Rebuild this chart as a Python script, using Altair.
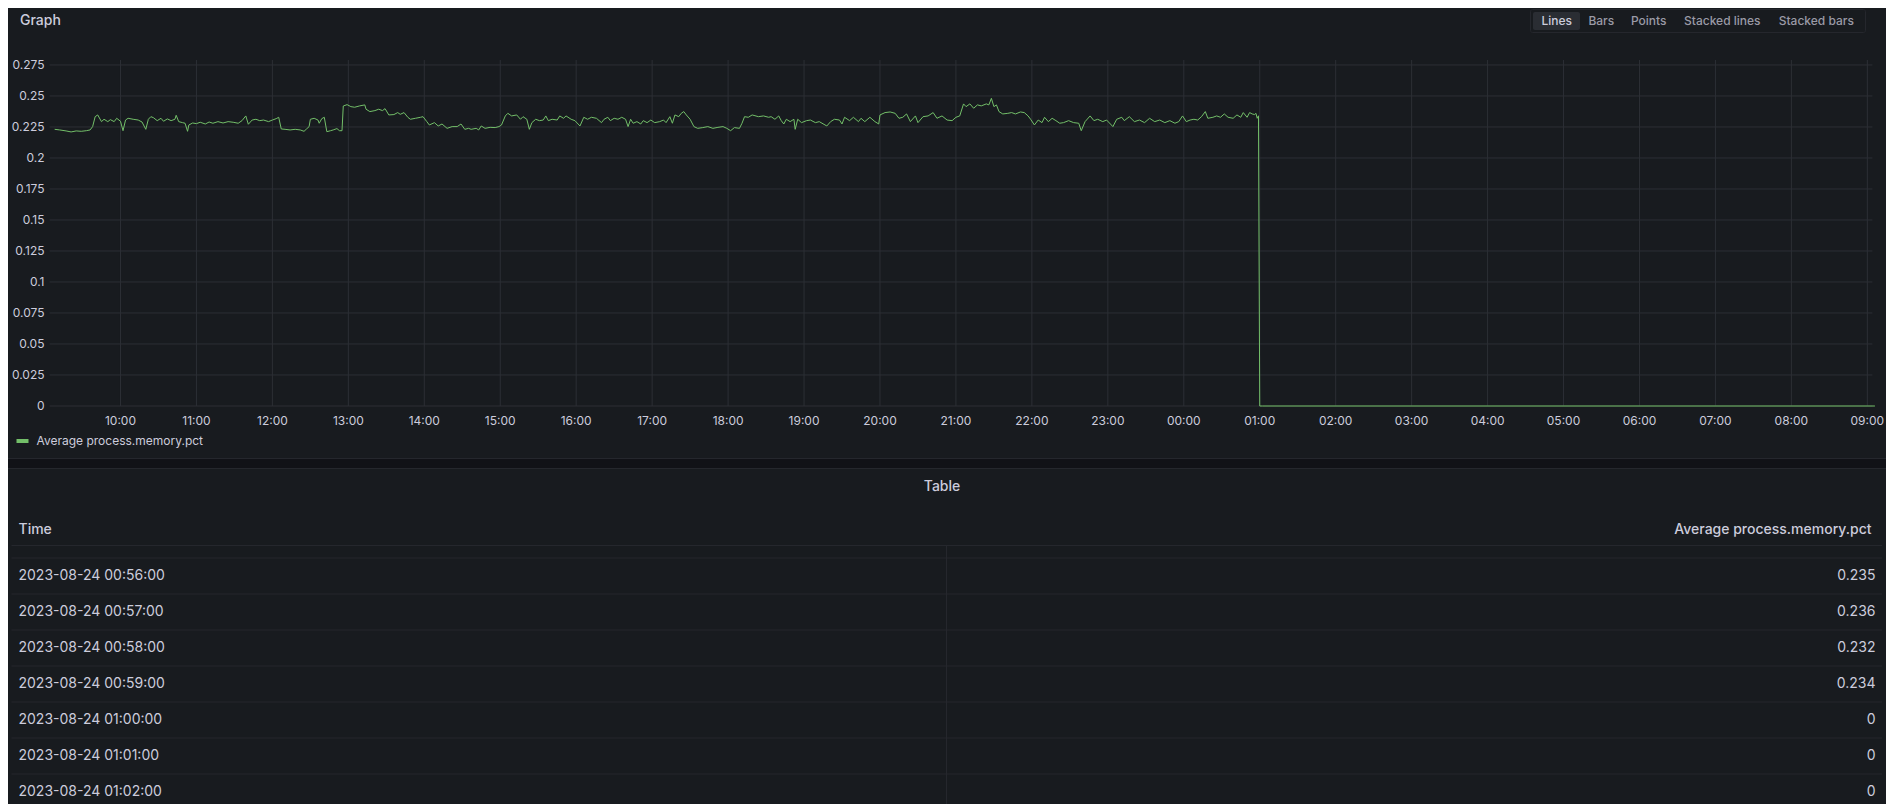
import altair as alt
import pandas as pd
from datetime import datetime, timedelta

# ---------------- data ----------------
SERIES = "Average process.memory.pct"
COL_TIME = "Time"

times = [
    "09:08", "09:12", "09:17", "09:21", "09:25", "09:29", "09:33", "09:36", "09:38", "09:40",
    "09:42", "09:45", "09:47", "09:50", "09:52", "09:55", "09:57", "10:00", "10:02", "10:04",
    "10:06", "10:10", "10:14", "10:17", "10:20", "10:22", "10:24", "10:26", "10:29", "10:32",
    "10:34", "10:37", "10:40", "10:43", "10:44", "10:46", "10:49", "10:51", "10:53", "10:54",
    "10:57", "11:00", "11:03", "11:07", "11:10", "11:13", "11:17", "11:21", "11:25", "11:29",
    "11:33", "11:36", "11:39", "11:41", "11:44", "11:47", "11:50", "11:53", "11:57", "12:00",
    "12:03", "12:05", "12:07", "12:10", "12:14", "12:18", "12:22", "12:25", "12:27", "12:29",
    "12:30", "12:33", "12:36", "12:37", "12:39", "12:41", "12:43", "12:46", "12:48", "12:51",
    "12:53", "12:55", "12:56", "12:59", "13:02", "13:05", "13:09", "13:13", "13:14", "13:17",
    "13:21", "13:24", "13:27", "13:29", "13:32", "13:36", "13:39", "13:41", "13:44", "13:47",
    "13:49", "13:53", "13:57", "13:59", "14:02", "14:04", "14:08", "14:11", "14:14", "14:18",
    "14:22", "14:26", "14:29", "14:32", "14:35", "14:37", "14:41", "14:43", "14:45", "14:48",
    "14:52", "14:56", "14:59", "15:01", "15:04", "15:06", "15:09", "15:13", "15:16", "15:18",
    "15:21", "15:23", "15:25", "15:28", "15:31", "15:34", "15:36", "15:38", "15:41", "15:45",
    "15:47", "15:50", "15:52", "15:56", "15:59", "16:03", "16:06", "16:09", "16:12", "16:16",
    "16:20", "16:22", "16:25", "16:27", "16:30", "16:33", "16:36", "16:39", "16:41", "16:43",
    "16:45", "16:48", "16:51", "16:53", "16:56", "16:59", "17:02", "17:06", "17:09", "17:11",
    "17:14", "17:16", "17:18", "17:21", "17:23", "17:25", "17:27", "17:30", "17:33", "17:36",
    "17:40", "17:44", "17:48", "17:52", "17:56", "17:59", "18:02", "18:05", "18:09", "18:11",
    "18:13", "18:16", "18:19", "18:24", "18:28", "18:32", "18:34", "18:37", "18:40", "18:42",
    "18:44", "18:46", "18:49", "18:52", "18:53", "18:55", "18:58", "19:02", "19:05", "19:09",
    "19:12", "19:18", "19:21", "19:24", "19:28", "19:30", "19:32", "19:36", "19:39", "19:43",
    "19:45", "19:48", "19:52", "19:56", "19:59", "20:00", "20:04", "20:08", "20:12", "20:15",
    "20:18", "20:21", "20:24", "20:28", "20:30", "20:34", "20:38", "20:42", "20:45", "20:49",
    "20:53", "20:57", "21:00", "21:03", "21:06", "21:08", "21:11", "21:14", "21:17", "21:20",
    "21:24", "21:26", "21:28", "21:30", "21:32", "21:34", "21:37", "21:41", "21:44", "21:47",
    "21:51", "21:54", "21:57", "21:59", "22:02", "22:05", "22:08", "22:10", "22:13", "22:16",
    "22:19", "22:22", "22:25", "22:29", "22:33", "22:37", "22:39", "22:42", "22:46", "22:49",
    "22:52", "22:56", "22:59", "23:04", "23:07", "23:11", "23:13", "23:17", "23:21", "23:25",
    "23:29", "23:33", "23:37", "23:41", "23:45", "23:49", "23:53", "23:56", "23:59", "00:02",
    "00:05", "00:08", "00:11", "00:14", "00:17", "00:19", "00:23", "00:26", "00:29", "00:32",
    "00:35", "00:39", "00:42", "00:45", "00:47", "00:50", "00:52", "00:54", "00:56", "00:57",
    "00:58", "00:59", "01:00", "01:01", "01:02", "09:06",
]

values = [
    0.2231, 0.2226, 0.2218, 0.2210, 0.2218, 0.2215, 0.2220, 0.2226, 0.2253, 0.2333,
    0.2347, 0.2293, 0.2312, 0.2293, 0.2309, 0.2293, 0.2320, 0.2296, 0.2220, 0.2306,
    0.2320, 0.2312, 0.2306, 0.2290, 0.2231, 0.2312, 0.2333, 0.2325, 0.2301, 0.2320,
    0.2296, 0.2315, 0.2301, 0.2312, 0.2344, 0.2293, 0.2285, 0.2280, 0.2215, 0.2266,
    0.2282, 0.2277, 0.2288, 0.2274, 0.2290, 0.2280, 0.2293, 0.2282, 0.2293, 0.2288,
    0.2280, 0.2301, 0.2339, 0.2272, 0.2306, 0.2312, 0.2301, 0.2306, 0.2293, 0.2306,
    0.2317, 0.2328, 0.2234, 0.2231, 0.2226, 0.2231, 0.2226, 0.2215, 0.2234, 0.2253,
    0.2312, 0.2320, 0.2306, 0.2280, 0.2317, 0.2328, 0.2212, 0.2220, 0.2226, 0.2237,
    0.2220, 0.2220, 0.2419, 0.2430, 0.2414, 0.2409, 0.2420, 0.2428, 0.2393, 0.2374,
    0.2382, 0.2393, 0.2382, 0.2398, 0.2347, 0.2350, 0.2366, 0.2352, 0.2366, 0.2328,
    0.2312, 0.2320, 0.2328, 0.2333, 0.2293, 0.2266, 0.2285, 0.2258, 0.2274, 0.2239,
    0.2253, 0.2253, 0.2274, 0.2231, 0.2239, 0.2231, 0.2239, 0.2226, 0.2258, 0.2239,
    0.2247, 0.2245, 0.2253, 0.2266, 0.2339, 0.2360, 0.2339, 0.2347, 0.2312, 0.2333,
    0.2312, 0.2231, 0.2285, 0.2312, 0.2301, 0.2306, 0.2339, 0.2301, 0.2312, 0.2306,
    0.2339, 0.2320, 0.2339, 0.2312, 0.2301, 0.2258, 0.2328, 0.2312, 0.2328, 0.2320,
    0.2285, 0.2312, 0.2328, 0.2301, 0.2320, 0.2312, 0.2328, 0.2312, 0.2253, 0.2312,
    0.2280, 0.2293, 0.2274, 0.2301, 0.2285, 0.2306, 0.2285, 0.2293, 0.2306, 0.2285,
    0.2333, 0.2280, 0.2347, 0.2333, 0.2360, 0.2374, 0.2347, 0.2312, 0.2253, 0.2239,
    0.2245, 0.2253, 0.2239, 0.2247, 0.2253, 0.2239, 0.2220, 0.2245, 0.2239, 0.2280,
    0.2333, 0.2328, 0.2347, 0.2333, 0.2339, 0.2328, 0.2333, 0.2312, 0.2339, 0.2301,
    0.2274, 0.2312, 0.2293, 0.2312, 0.2231, 0.2312, 0.2285, 0.2301, 0.2306, 0.2285,
    0.2293, 0.2258, 0.2293, 0.2312, 0.2306, 0.2274, 0.2328, 0.2301, 0.2328, 0.2293,
    0.2320, 0.2293, 0.2328, 0.2293, 0.2274, 0.2347, 0.2366, 0.2371, 0.2360, 0.2320,
    0.2328, 0.2355, 0.2293, 0.2339, 0.2285, 0.2333, 0.2339, 0.2366, 0.2320, 0.2339,
    0.2306, 0.2301, 0.2328, 0.2339, 0.2436, 0.2414, 0.2436, 0.2401, 0.2428, 0.2420,
    0.2436, 0.2428, 0.2481, 0.2414, 0.2428, 0.2374, 0.2355, 0.2360, 0.2366, 0.2355,
    0.2371, 0.2366, 0.2339, 0.2312, 0.2266, 0.2306, 0.2285, 0.2328, 0.2293, 0.2320,
    0.2301, 0.2280, 0.2285, 0.2301, 0.2285, 0.2280, 0.2220, 0.2293, 0.2339, 0.2301,
    0.2312, 0.2293, 0.2306, 0.2253, 0.2312, 0.2328, 0.2301, 0.2333, 0.2293, 0.2306,
    0.2285, 0.2320, 0.2293, 0.2306, 0.2285, 0.2301, 0.2280, 0.2293, 0.2339, 0.2293,
    0.2306, 0.2312, 0.2306, 0.2333, 0.2374, 0.2320, 0.2328, 0.2339, 0.2328, 0.2355,
    0.2328, 0.2320, 0.2347, 0.2328, 0.2366, 0.2328, 0.2366, 0.2355, 0.235, 0.236,
    0.232, 0.234, 0, 0, 0, 0,
]

x_tick_labels = ["10:00", "11:00", "12:00", "13:00", "14:00", "15:00", "16:00", "17:00",
                 "18:00", "19:00", "20:00", "21:00", "22:00", "23:00", "00:00", "01:00",
                 "02:00", "03:00", "04:00", "05:00", "06:00", "07:00", "08:00", "09:00"]
y_tick_values = [0, 0.025, 0.05, 0.075, 0.1, 0.125, 0.15, 0.175, 0.2, 0.225, 0.25, 0.275]
y_max = 0.279
time_from = "09:04"
time_to = "09:04"
buttons = ["Lines", "Bars", "Points", "Stacked lines", "Stacked bars"]
table_from, table_to = "00:56", "01:02"

# ---------------- helpers ----------------
DAY0 = datetime(2023, 8, 23)


def stamps(labels, start_day=0):
    out, day, prev = [], start_day, None
    for s in labels:
        h, m = map(int, s.split(":"))
        if prev is not None and (h, m) < prev:
            day += 1
        prev = (h, m)
        out.append(DAY0 + timedelta(days=day, hours=h, minutes=m))
    return out


def dt(d):
    return alt.DateTime(year=d.year, month=d.month, date=d.day, hours=d.hour, minutes=d.minute)


def iso(d):
    return d.strftime("%Y-%m-%dT%H:%M:%S")


ts = stamps(times)
df = pd.DataFrame({"time": [iso(t) for t in ts], "value": values, "series": SERIES})

tick_ts = stamps(x_tick_labels)
t0 = stamps([time_from])[0]
t1 = stamps([time_to], start_day=1)[0]

# colours
PAGE = "#111217"
PANEL = "#181b1f"
BORDER = "#25272d"
GRID = "#2c2f35"
TEXT = "#ccccdc"
TEXT2 = "#9a9aa6"
GREEN = "#73BF69"
FONT = "Inter"

X_SCALE = alt.Scale(domain=[dt(t0), dt(t1)], range=[41.6, 1864.4])
Y_SCALE = alt.Scale(domain=[0, y_max], range=[398, 52], nice=False, zero=False)

ONE = alt.Data(values=[{"k": 0}])


def box(x, x2, y, y2, fill=None, stroke=None, radius=0):
    kw = {"cornerRadius": radius}
    if fill:
        kw["fill"] = fill
    else:
        kw["fillOpacity"] = 0
    if stroke:
        kw["stroke"] = stroke
        kw["strokeWidth"] = 1
    return alt.Chart(ONE).mark_rect(**kw).encode(
        x=alt.value(x), x2=alt.value(x2), y=alt.value(y), y2=alt.value(y2))


def label(text, x, y, size=14, color=TEXT, weight=400, align="left"):
    return alt.Chart(ONE).mark_text(text=text, align=align, baseline="middle", font=FONT,
                                    fontSize=size, fontWeight=weight, color=color).encode(
        x=alt.value(x), y=alt.value(y))


def hline(x, x2, y, color=BORDER):
    return alt.Chart(ONE).mark_rule(color=color, strokeWidth=1).encode(
        x=alt.value(x), x2=alt.value(x2), y=alt.value(y))


def vline(x, y, y2, color=BORDER):
    return alt.Chart(ONE).mark_rule(color=color, strokeWidth=1).encode(
        x=alt.value(x), y=alt.value(y), y2=alt.value(y2))


# ---------------- graph ----------------
vgrid_df = pd.DataFrame({"t": [iso(t) for t in tick_ts], "lab": x_tick_labels,
                         "y0": 0.0, "y1": y_max})
hgrid_df = pd.DataFrame({"v": y_tick_values, "lab": [f"{v:g}" for v in y_tick_values],
                         "x0": iso(t0), "x1": iso(t1)})

vgrid = alt.Chart(vgrid_df).mark_rule(color=GRID, strokeWidth=1).encode(
    x=alt.X("t:T", scale=X_SCALE, axis=None),
    y=alt.Y("y0:Q", scale=Y_SCALE, axis=None), y2="y1:Q")
hgrid = alt.Chart(hgrid_df).mark_rule(color=GRID, strokeWidth=1).encode(
    x=alt.X("x0:T", scale=X_SCALE, axis=None), x2="x1:T",
    y=alt.Y("v:Q", scale=Y_SCALE, axis=None))
xlabels = alt.Chart(vgrid_df).mark_text(
    align="center", baseline="middle", font=FONT, fontSize=12, color=TEXT).encode(
    x=alt.X("t:T", scale=X_SCALE, axis=None), y=alt.value(412.5), text="lab:N")
ylabels = alt.Chart(hgrid_df).mark_text(
    align="right", baseline="middle", font=FONT, fontSize=12, color=TEXT).encode(
    y=alt.Y("v:Q", scale=Y_SCALE, axis=None), x=alt.value(36.5), text="lab:N")

line = alt.Chart(df).mark_line(strokeWidth=1).encode(
    x=alt.X("time:T", scale=X_SCALE, axis=None),
    y=alt.Y("value:Q", scale=Y_SCALE, axis=None),
    color=alt.Color("series:N", scale=alt.Scale(domain=[SERIES], range=[GREEN]),
                    legend=alt.Legend(orient="none", legendX=6.5, legendY=425, title=None,
                                      symbolType="stroke", symbolSize=144,
                                      symbolStrokeWidth=4, labelFont=FONT,
                                      labelFontSize=12, labelColor=TEXT, labelOffset=6,
                                      labelLimit=0, padding=0)),
)
graph = alt.layer(vgrid, hgrid, xlabels, ylabels, line)

# ---------------- table ----------------
sel = [(t, v) for t, v in zip(ts, values)
       if stamps([table_from], 1)[0] <= t <= stamps([table_to], 1)[0]]
rows = []
for i, (t, v) in enumerate(sel):
    rows.append({"idx": i, "col": COL_TIME, "text": t.strftime("%Y-%m-%d %H:%M:%S")})
    rows.append({"idx": i, "col": SERIES, "text": f"{v:g}"})
tbl = pd.DataFrame(rows)
hdr = pd.DataFrame({"col": [COL_TIME, SERIES]})

TX = alt.Scale(domain=[COL_TIME, SERIES], range=[10.5, 1867.5], padding=0)
TY = alt.Scale(domain=[0, len(sel) - 1], range=[568, 568 + 36 * (len(sel) - 1)],
               nice=False, zero=False)

seps = alt.Chart(tbl).transform_filter(alt.datum.col == COL_TIME).transform_calculate(
    b="datum.idx - 0.5").mark_rule(color=BORDER, strokeWidth=1).encode(
    y=alt.Y("b:Q", scale=TY, axis=None), x=alt.value(3.5), x2=alt.value(1874))
cells_l = alt.Chart(tbl).transform_filter(alt.datum.col == COL_TIME).mark_text(
    align="left", baseline="middle", font=FONT, fontSize=14, color=TEXT).encode(
    x=alt.X("col:N", scale=TX, axis=None), y=alt.Y("idx:Q", scale=TY, axis=None),
    text="text:N")
cells_r = alt.Chart(tbl).transform_filter(alt.datum.col != COL_TIME).mark_text(
    align="right", baseline="middle", font=FONT, fontSize=14, color=TEXT).encode(
    x=alt.X("col:N", scale=TX, axis=None), y=alt.Y("idx:Q", scale=TY, axis=None),
    text="text:N")
hdr_l = alt.Chart(hdr).transform_filter(alt.datum.col == COL_TIME).mark_text(
    align="left", baseline="middle", font=FONT, fontSize=14, fontWeight=500,
    color=TEXT).encode(x=alt.X("col:N", scale=TX, axis=None), y=alt.value(522), text="col:N")
hdr_r = alt.Chart(hdr).transform_filter(alt.datum.col != COL_TIME).mark_text(
    align="right", baseline="middle", font=FONT, fontSize=14, fontWeight=500, dx=-4,
    color=TEXT).encode(x=alt.X("col:N", scale=TX, axis=None), y=alt.value(522), text="col:N")
table = alt.layer(seps, cells_l, cells_r, hdr_l, hdr_r)

# ---------------- decorations ----------------
btn_centers = [1548.7, 1593.3, 1640.7, 1714.3, 1808.3]
btn_layers = [box(1522.5, 1857.5, 1.5, 24.5, fill=PANEL, stroke=BORDER, radius=2),
              box(1525, 1572, 4, 22, fill="#2a2d33", radius=2)]
for i, (b, cx) in enumerate(zip(buttons, btn_centers)):
    btn_layers.append(label(b, cx, 13, size=12, color=TEXT if i == 0 else TEXT2,
                            weight=500, align="center"))

decor_back = [
    box(-6.5, 1881.5, -6.5, 450.5, fill=PANEL, stroke=BORDER, radius=2),
    box(-4.5, 1881.5, 460.5, 820, fill=PANEL, stroke=BORDER, radius=2),
]
decor_front = [
    label("Graph", 12, 13, size=14, weight=500),
    label("Table", 934, 479, size=14, weight=500, align="center"),
    hline(3.5, 1874, 537.5),
    vline(938.5, 538, 800),
] + btn_layers

chart = alt.layer(*decor_back, graph, table, *decor_front).resolve_scale(
    x="independent", y="independent").properties(
    width=1878, height=796, autosize=alt.AutoSizeParams(type="none"), padding=0,
    background=PAGE).configure_view(stroke=None)

chart.save("out.html", embed_options={"renderer": "svg", "actions": False})
